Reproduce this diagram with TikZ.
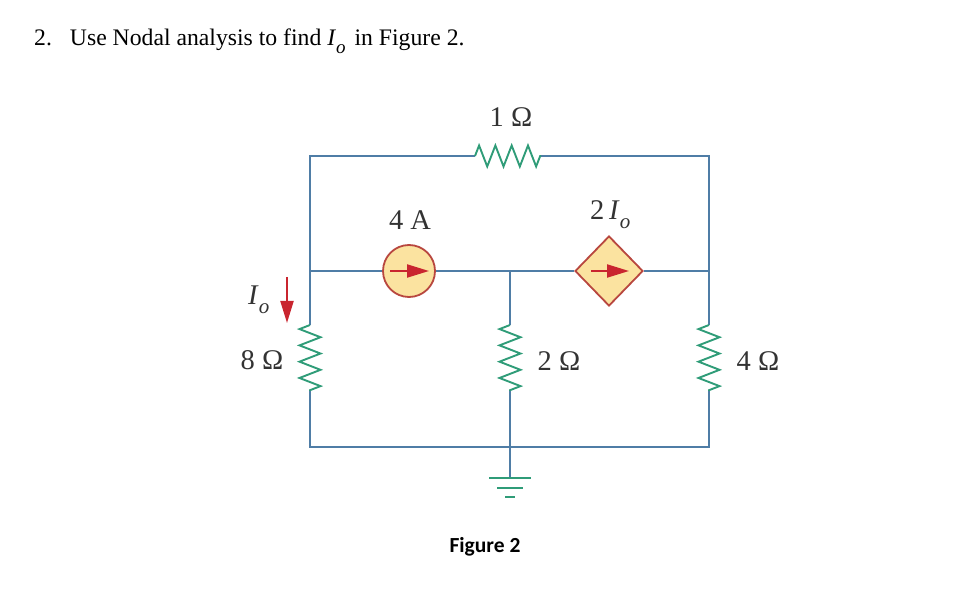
\documentclass[tikz,border=0pt]{standalone}
\usepackage{fontspec}
\setmainfont{Liberation Serif}
\newfontfamily\figfont{Carlito}
\usetikzlibrary{shapes.geometric}
\usetikzlibrary{arrows.meta}
\usetikzlibrary{decorations.pathmorphing}

\definecolor{wireblue}{HTML}{4F7DA6}
\definecolor{resgreen}{HTML}{2F9C78}
\definecolor{srcred}{HTML}{C9252F}
\definecolor{srcedge}{HTML}{B8473F}
\definecolor{srcfill}{HTML}{FBE3A0}
\definecolor{labelgray}{HTML}{333333}

\newcommand{\Io}[1]{\textit{I}\raisebox{-0.3em}{\fontsize{#1}{#1}\selectfont\textit{o}}}

\begin{document}
\begin{tikzpicture}[x=1pt,y=-1pt]
\tikzset{
  wire/.style={draw=wireblue, line width=1.7pt},
  res/.style={draw=resgreen, line width=1.9pt, line join=miter,
    decorate, decoration={zigzag, segment length=16.3pt, amplitude=10.5pt, #1}},
  src/.style={draw=srcedge, fill=srcfill, line width=1.8pt, inner sep=0pt},
  flow/.style={draw=srcred, line width=2.1pt, -{Triangle[length=22pt,width=13pt]}},
  bar/.style={draw=resgreen, line width=1.8pt},
  lab/.style={text=labelgray, font=\fontsize{28.5}{30}\selectfont, inner sep=0pt},
}
\useasboundingbox (0,0) rectangle (969,593);

\coordinate (tl) at (310,156);
\coordinate (tr) at (709,156);
\coordinate (ml) at (310,271);
\coordinate (mc) at (510,271);
\coordinate (mr) at (709,271);
\coordinate (bl) at (310,447);
\coordinate (bc) at (510,447);
\coordinate (br) at (709,447);
\coordinate (gnd) at (510,478);

% resistor ends
\coordinate (r1a) at (475,156);
\coordinate (r1b) at (541,156);
\coordinate (r8a) at (310,325);
\coordinate (r8b) at (310,391);
\coordinate (r2a) at (510,325);
\coordinate (r2b) at (510,391);
\coordinate (r4a) at (709,325);
\coordinate (r4b) at (709,391);

\node[src, circle, minimum size=52pt] (isrc) at (409,271) {};
\node[src, diamond, minimum width=68pt, minimum height=70pt] (vsrc) at (609,271) {};

\draw[wire] (r1a) -- (tl) -- (ml) -- (r8a);
\draw[wire] (r1b) -- (tr) -- (mr) -- (r4a);
\draw[wire] (ml) -- (isrc);
\draw[wire] (isrc) -- (mc) -- (vsrc);
\draw[wire] (vsrc) -- (mr);
\draw[wire] (mc) -- (r2a);
\draw[wire] (r8b) -- (bl) -- (br) -- (r4b);
\draw[wire] (r2b) -- (bc) -- (gnd);

\draw[res] (r1a) -- (r1b);
\draw[res=mirror] (r8a) -- (r8b);
\draw[res=mirror] (r2a) -- (r2b);
\draw[res=mirror] (r4a) -- (r4b);

% ground bars
\coordinate (gnd2) at (510,488);
\coordinate (gnd3) at (510,497);
\draw[bar] ([xshift=-21pt]gnd) -- ([xshift=21pt]gnd);
\draw[bar] ([xshift=-13pt]gnd2) -- ([xshift=13pt]gnd2);
\draw[bar] ([xshift=-5pt]gnd3) -- ([xshift=5pt]gnd3);

% current arrows
\coordinate (a1) at (390,271);
\coordinate (a2) at (429,271);
\coordinate (d1) at (591,271);
\coordinate (d2) at (629,271);
\coordinate (o1) at (287,277);
\coordinate (o2) at (287,323);
\draw[flow] (a1) -- (a2);
\draw[flow] (d1) -- (d2);
\draw[flow] (o1) -- (o2);

\node[lab] (l1) at (511,117) {1 Ω};
\node[lab] (l4a) at (410,220) {4 A};
\node[lab, anchor=base west] (l2io) at (590,220) {2\,\Io{21}};
\node[lab, anchor=base west] (lio) at (248,305) {\Io{21}};
\node[lab] (l8) at (262,360) {8 Ω};
\node[lab] (l2) at (559,361) {2 Ω};
\node[lab] (l4r) at (758,361) {4 Ω};

\node[anchor=base west, inner sep=0pt, font=\fontsize{23.7}{28}\selectfont] (head) at (34,46)
  {2.\hspace{18pt}Use Nodal analysis to find \Io{19}\hspace{3pt} in Figure 2.};
\node[inner sep=0pt, font=\figfont\bfseries\fontsize{21.5}{28}\selectfont] (figlab) at (485,547) {Figure 2};
\end{tikzpicture}
\end{document}
